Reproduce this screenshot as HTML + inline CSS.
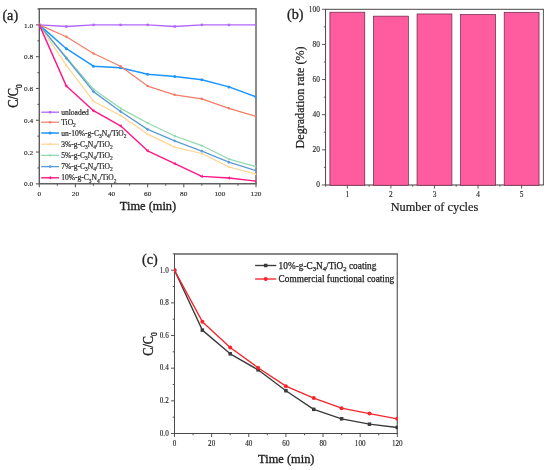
<!DOCTYPE html>
<html lang="en">
<head>
<meta charset="utf-8">
<title>Figure</title>
<style>
html,body{margin:0;padding:0;background:#ffffff;}
body{width:550px;height:470px;overflow:hidden;}
svg{display:block;}
svg text{font-family:"Liberation Serif", serif;fill:#222222;}
</style>
</head>
<body>
<svg width="550" height="470" viewBox="0 0 550 470">
<rect x="0" y="0" width="550" height="470" fill="#ffffff"/>
<g id="pa">
<clipPath id="clipa"><rect x="38.9" y="8.8" width="217.3" height="175.35"/></clipPath>
<line x1="38.6" y1="8.8" x2="256.75" y2="8.8" stroke="#6a6a6a" stroke-width="1.6"/>
<line x1="256" y1="8.8" x2="256" y2="183.85" stroke="#666666" stroke-width="1.5"/>
<line x1="38.6" y1="183.85" x2="256.75" y2="183.85" stroke="#606060" stroke-width="1.5"/>
<line x1="39.3" y1="8.8" x2="39.3" y2="183.85" stroke="#5c5c5c" stroke-width="1.4"/>
<line x1="35.9" y1="183.85" x2="39.3" y2="183.85" stroke="#5c5c5c" stroke-width="1.1"/>
<text transform="translate(33.2,186.45) scale(1.03,1)" font-size="7.1" text-anchor="end" fill="#222222" stroke="#222222" stroke-width="0.12">0.0</text>
<line x1="37.4" y1="167.95" x2="39.3" y2="167.95" stroke="#5c5c5c" stroke-width="1.1"/>
<line x1="35.9" y1="152.06" x2="39.3" y2="152.06" stroke="#5c5c5c" stroke-width="1.1"/>
<text transform="translate(33.2,154.66) scale(1.03,1)" font-size="7.1" text-anchor="end" fill="#222222" stroke="#222222" stroke-width="0.12">0.2</text>
<line x1="37.4" y1="136.16" x2="39.3" y2="136.16" stroke="#5c5c5c" stroke-width="1.1"/>
<line x1="35.9" y1="120.27" x2="39.3" y2="120.27" stroke="#5c5c5c" stroke-width="1.1"/>
<text transform="translate(33.2,122.87) scale(1.03,1)" font-size="7.1" text-anchor="end" fill="#222222" stroke="#222222" stroke-width="0.12">0.4</text>
<line x1="37.4" y1="104.38" x2="39.3" y2="104.38" stroke="#5c5c5c" stroke-width="1.1"/>
<line x1="35.9" y1="88.48" x2="39.3" y2="88.48" stroke="#5c5c5c" stroke-width="1.1"/>
<text transform="translate(33.2,91.08) scale(1.03,1)" font-size="7.1" text-anchor="end" fill="#222222" stroke="#222222" stroke-width="0.12">0.6</text>
<line x1="37.4" y1="72.59" x2="39.3" y2="72.59" stroke="#5c5c5c" stroke-width="1.1"/>
<line x1="35.9" y1="56.69" x2="39.3" y2="56.69" stroke="#5c5c5c" stroke-width="1.1"/>
<text transform="translate(33.2,59.29) scale(1.03,1)" font-size="7.1" text-anchor="end" fill="#222222" stroke="#222222" stroke-width="0.12">0.8</text>
<line x1="37.4" y1="40.79" x2="39.3" y2="40.79" stroke="#5c5c5c" stroke-width="1.1"/>
<line x1="35.9" y1="24.9" x2="39.3" y2="24.9" stroke="#5c5c5c" stroke-width="1.1"/>
<text transform="translate(33.2,27.5) scale(1.03,1)" font-size="7.1" text-anchor="end" fill="#222222" stroke="#222222" stroke-width="0.12">1.0</text>
<line x1="37.4" y1="9" x2="39.3" y2="9" stroke="#5c5c5c" stroke-width="1.1"/>
<line x1="39.3" y1="183.85" x2="39.3" y2="187.25" stroke="#5c5c5c" stroke-width="1.1"/>
<text transform="translate(39.3,195.75) scale(1.03,1)" font-size="7.1" text-anchor="middle" fill="#222222" stroke="#222222" stroke-width="0.12">0</text>
<line x1="57.36" y1="183.85" x2="57.36" y2="185.75" stroke="#5c5c5c" stroke-width="1.1"/>
<line x1="75.42" y1="183.85" x2="75.42" y2="187.25" stroke="#5c5c5c" stroke-width="1.1"/>
<text transform="translate(75.42,195.75) scale(1.03,1)" font-size="7.1" text-anchor="middle" fill="#222222" stroke="#222222" stroke-width="0.12">20</text>
<line x1="93.47" y1="183.85" x2="93.47" y2="185.75" stroke="#5c5c5c" stroke-width="1.1"/>
<line x1="111.53" y1="183.85" x2="111.53" y2="187.25" stroke="#5c5c5c" stroke-width="1.1"/>
<text transform="translate(111.53,195.75) scale(1.03,1)" font-size="7.1" text-anchor="middle" fill="#222222" stroke="#222222" stroke-width="0.12">40</text>
<line x1="129.59" y1="183.85" x2="129.59" y2="185.75" stroke="#5c5c5c" stroke-width="1.1"/>
<line x1="147.65" y1="183.85" x2="147.65" y2="187.25" stroke="#5c5c5c" stroke-width="1.1"/>
<text transform="translate(147.65,195.75) scale(1.03,1)" font-size="7.1" text-anchor="middle" fill="#222222" stroke="#222222" stroke-width="0.12">60</text>
<line x1="165.71" y1="183.85" x2="165.71" y2="185.75" stroke="#5c5c5c" stroke-width="1.1"/>
<line x1="183.77" y1="183.85" x2="183.77" y2="187.25" stroke="#5c5c5c" stroke-width="1.1"/>
<text transform="translate(183.77,195.75) scale(1.03,1)" font-size="7.1" text-anchor="middle" fill="#222222" stroke="#222222" stroke-width="0.12">80</text>
<line x1="201.82" y1="183.85" x2="201.82" y2="185.75" stroke="#5c5c5c" stroke-width="1.1"/>
<line x1="219.88" y1="183.85" x2="219.88" y2="187.25" stroke="#5c5c5c" stroke-width="1.1"/>
<text transform="translate(219.88,195.75) scale(1.03,1)" font-size="7.1" text-anchor="middle" fill="#222222" stroke="#222222" stroke-width="0.12">100</text>
<line x1="237.94" y1="183.85" x2="237.94" y2="185.75" stroke="#5c5c5c" stroke-width="1.1"/>
<line x1="256" y1="183.85" x2="256" y2="187.25" stroke="#5c5c5c" stroke-width="1.1"/>
<text transform="translate(256,195.75) scale(1.03,1)" font-size="7.1" text-anchor="middle" fill="#222222" stroke="#222222" stroke-width="0.12">120</text>
<g clip-path="url(#clipa)">
<polyline points="39.3,24.9 66.39,26.49 93.47,24.9 120.56,24.9 147.65,24.9 174.74,26.49 201.82,24.9 228.91,24.9 256,24.9" fill="none" stroke="#B266FF" stroke-width="1.3" stroke-linejoin="round"/>
<rect x="38.08" y="23.69" width="2.43" height="2.43" fill="#B266FF"/>
<rect x="65.17" y="25.27" width="2.43" height="2.43" fill="#B266FF"/>
<rect x="92.26" y="23.69" width="2.43" height="2.43" fill="#B266FF"/>
<rect x="119.35" y="23.69" width="2.43" height="2.43" fill="#B266FF"/>
<rect x="146.43" y="23.69" width="2.43" height="2.43" fill="#B266FF"/>
<rect x="173.52" y="25.27" width="2.43" height="2.43" fill="#B266FF"/>
<rect x="200.61" y="23.69" width="2.43" height="2.43" fill="#B266FF"/>
<rect x="227.7" y="23.69" width="2.43" height="2.43" fill="#B266FF"/>
<rect x="254.78" y="23.69" width="2.43" height="2.43" fill="#B266FF"/>
<polyline points="39.3,24.9 66.39,48.74 93.47,66.23 120.56,67.82 147.65,74.17 174.74,76.56 201.82,79.74 228.91,86.89 256,96.9" fill="none" stroke="#1C96FF" stroke-width="1.5" stroke-linejoin="round"/>
<circle cx="39.3" cy="24.9" r="1.5" fill="#1C96FF"/>
<circle cx="66.39" cy="48.74" r="1.5" fill="#1C96FF"/>
<circle cx="93.47" cy="66.23" r="1.5" fill="#1C96FF"/>
<circle cx="120.56" cy="67.82" r="1.5" fill="#1C96FF"/>
<circle cx="147.65" cy="74.17" r="1.5" fill="#1C96FF"/>
<circle cx="174.74" cy="76.56" r="1.5" fill="#1C96FF"/>
<circle cx="201.82" cy="79.74" r="1.5" fill="#1C96FF"/>
<circle cx="228.91" cy="86.89" r="1.5" fill="#1C96FF"/>
<circle cx="256" cy="96.9" r="1.5" fill="#1C96FF"/>
<polyline points="39.3,24.9 66.39,36.82 93.47,53.51 120.56,66.23 147.65,86.1 174.74,94.84 201.82,98.81 228.91,108.35 256,116.3" fill="none" stroke="#F37C66" stroke-width="1.2" stroke-linejoin="round"/>
<circle cx="39.3" cy="24.9" r="1.25" fill="#F37C66"/>
<circle cx="66.39" cy="36.82" r="1.25" fill="#F37C66"/>
<circle cx="93.47" cy="53.51" r="1.25" fill="#F37C66"/>
<circle cx="120.56" cy="66.23" r="1.25" fill="#F37C66"/>
<circle cx="147.65" cy="86.1" r="1.25" fill="#F37C66"/>
<circle cx="174.74" cy="94.84" r="1.25" fill="#F37C66"/>
<circle cx="201.82" cy="98.81" r="1.25" fill="#F37C66"/>
<circle cx="228.91" cy="108.35" r="1.25" fill="#F37C66"/>
<circle cx="256" cy="116.3" r="1.25" fill="#F37C66"/>
<polyline points="39.3,24.9 66.39,65.43 93.47,101.2 120.56,115.5 147.65,134.1 174.74,147.13 201.82,153.49 228.91,167 256,174.15" fill="none" stroke="#FFD591" stroke-width="1.25" stroke-linejoin="round"/>
<polygon points="39.3,23.21 40.76,25.75 37.84,25.75" fill="#FFD591"/>
<polygon points="66.39,63.74 67.85,66.28 64.92,66.28" fill="#FFD591"/>
<polygon points="93.47,99.51 94.94,102.04 92.01,102.04" fill="#FFD591"/>
<polygon points="120.56,113.81 122.03,116.35 119.1,116.35" fill="#FFD591"/>
<polygon points="147.65,132.41 149.11,134.94 146.19,134.94" fill="#FFD591"/>
<polygon points="174.74,145.44 176.2,147.98 173.27,147.98" fill="#FFD591"/>
<polygon points="201.82,151.8 203.29,154.34 200.36,154.34" fill="#FFD591"/>
<polygon points="228.91,165.31 230.38,167.85 227.45,167.85" fill="#FFD591"/>
<polygon points="256,172.46 257.46,175 254.54,175" fill="#FFD591"/>
<polyline points="39.3,24.9 66.39,57.48 93.47,89.27 120.56,108.35 147.65,122.97 174.74,136.01 201.82,145.54 228.91,159.05 256,166.68" fill="none" stroke="#92D8B0" stroke-width="1.25" stroke-linejoin="round"/>
<polygon points="39.3,26.59 37.84,24.06 40.76,24.06" fill="#92D8B0"/>
<polygon points="66.39,59.17 64.92,56.64 67.85,56.64" fill="#92D8B0"/>
<polygon points="93.47,90.96 92.01,88.43 94.94,88.43" fill="#92D8B0"/>
<polygon points="120.56,110.04 119.1,107.5 122.03,107.5" fill="#92D8B0"/>
<polygon points="147.65,124.66 146.19,122.13 149.11,122.13" fill="#92D8B0"/>
<polygon points="174.74,137.7 173.27,135.16 176.2,135.16" fill="#92D8B0"/>
<polygon points="201.82,147.23 200.36,144.7 203.29,144.7" fill="#92D8B0"/>
<polygon points="228.91,160.74 227.45,158.21 230.38,158.21" fill="#92D8B0"/>
<polygon points="256,168.37 254.54,165.84 257.46,165.84" fill="#92D8B0"/>
<polyline points="39.3,24.9 66.39,58.28 93.47,91.66 120.56,111.53 147.65,129.33 174.74,140.93 201.82,151.11 228.91,162.23 256,170.66" fill="none" stroke="#5B9BD8" stroke-width="1.35" stroke-linejoin="round"/>
<polygon points="39.3,23.21 40.99,24.9 39.3,26.59 37.61,24.9" fill="#5B9BD8"/>
<polygon points="66.39,56.59 68.07,58.28 66.39,59.97 64.7,58.28" fill="#5B9BD8"/>
<polygon points="93.47,89.97 95.16,91.66 93.47,93.35 91.79,91.66" fill="#5B9BD8"/>
<polygon points="120.56,109.84 122.25,111.53 120.56,113.22 118.88,111.53" fill="#5B9BD8"/>
<polygon points="147.65,127.64 149.34,129.33 147.65,131.02 145.96,129.33" fill="#5B9BD8"/>
<polygon points="174.74,139.25 176.43,140.93 174.74,142.62 173.05,140.93" fill="#5B9BD8"/>
<polygon points="201.82,149.42 203.51,151.11 201.82,152.79 200.14,151.11" fill="#5B9BD8"/>
<polygon points="228.91,160.55 230.6,162.23 228.91,163.92 227.23,162.23" fill="#5B9BD8"/>
<polygon points="256,168.97 257.69,170.66 256,172.34 254.31,170.66" fill="#5B9BD8"/>
<polyline points="39.3,24.9 66.39,86.1 93.47,110.73 120.56,125.83 147.65,150.79 174.74,163.66 201.82,176.38 228.91,177.97 256,181.15" fill="none" stroke="#FF1585" stroke-width="1.4" stroke-linejoin="round"/>
<polygon points="37.35,24.9 40.27,23.21 40.27,26.59" fill="#FF1585"/>
<polygon points="64.44,86.1 67.36,84.41 67.36,87.78" fill="#FF1585"/>
<polygon points="91.52,110.73 94.45,109.04 94.45,112.42" fill="#FF1585"/>
<polygon points="118.61,125.83 121.54,124.14 121.54,127.52" fill="#FF1585"/>
<polygon points="145.7,150.79 148.62,149.1 148.62,152.48" fill="#FF1585"/>
<polygon points="172.79,163.66 175.71,161.97 175.71,165.35" fill="#FF1585"/>
<polygon points="199.88,176.38 202.8,174.69 202.8,178.07" fill="#FF1585"/>
<polygon points="226.96,177.97 229.89,176.28 229.89,179.66" fill="#FF1585"/>
<polygon points="254.05,181.15 256.98,179.46 256.98,182.84" fill="#FF1585"/>
</g>
<text transform="translate(148,209.6) scale(0.94,1)" font-size="13.2" text-anchor="middle" stroke="#222222" stroke-width="0.35">Time (min)</text>
<text transform="translate(17.5,96) rotate(-90) scale(0.85,1)" font-size="14.5" text-anchor="middle" stroke="#222222" stroke-width="0.35">C/C<tspan font-size="8.7" dy="4.35">0</tspan></text>
<text x="2.4" y="20" font-size="14.2" text-anchor="start" stroke="#222222" stroke-width="0.32">(a)</text>
<line x1="41.2" y1="112.2" x2="59" y2="112.2" stroke="#B266FF" stroke-width="1.3"/>
<rect x="48.88" y="110.98" width="2.43" height="2.43" fill="#B266FF"/>
<text x="61.2" y="114.8" font-size="7.55" text-anchor="start" stroke="#222222" stroke-width="0.18">unloaded</text>
<line x1="41.2" y1="122.2" x2="59" y2="122.2" stroke="#F37C66" stroke-width="1.2"/>
<circle cx="50.1" cy="122.2" r="1.25" fill="#F37C66"/>
<text x="61.2" y="124.8" font-size="7.55" text-anchor="start" stroke="#222222" stroke-width="0.18">TiO<tspan font-size="5.44" dy="2.26">2</tspan></text>
<line x1="41.2" y1="133" x2="59" y2="133" stroke="#1C96FF" stroke-width="1.5"/>
<circle cx="50.1" cy="133" r="1.5" fill="#1C96FF"/>
<text x="61.2" y="135.6" font-size="7.55" text-anchor="start" stroke="#222222" stroke-width="0.18">un-10%-g-C<tspan font-size="5.44" dy="2.26">3</tspan><tspan dy="-2.26">N</tspan><tspan font-size="5.44" dy="2.26">4</tspan><tspan dy="-2.26">/TiO</tspan><tspan font-size="5.44" dy="2.26">2</tspan></text>
<line x1="41.2" y1="144.2" x2="59" y2="144.2" stroke="#FFD591" stroke-width="1.25"/>
<polygon points="50.1,142.51 51.56,145.04 48.64,145.04" fill="#FFD591"/>
<text x="61.2" y="146.8" font-size="7.55" text-anchor="start" stroke="#222222" stroke-width="0.18">3%-g-C<tspan font-size="5.44" dy="2.26">3</tspan><tspan dy="-2.26">N</tspan><tspan font-size="5.44" dy="2.26">4</tspan><tspan dy="-2.26">/TiO</tspan><tspan font-size="5.44" dy="2.26">2</tspan></text>
<line x1="41.2" y1="155.4" x2="59" y2="155.4" stroke="#92D8B0" stroke-width="1.25"/>
<polygon points="50.1,157.09 48.64,154.56 51.56,154.56" fill="#92D8B0"/>
<text x="61.2" y="158" font-size="7.55" text-anchor="start" stroke="#222222" stroke-width="0.18">5%-g-C<tspan font-size="5.44" dy="2.26">3</tspan><tspan dy="-2.26">N</tspan><tspan font-size="5.44" dy="2.26">4</tspan><tspan dy="-2.26">/TiO</tspan><tspan font-size="5.44" dy="2.26">2</tspan></text>
<line x1="41.2" y1="166.6" x2="59" y2="166.6" stroke="#5B9BD8" stroke-width="1.35"/>
<polygon points="50.1,164.91 51.79,166.6 50.1,168.29 48.41,166.6" fill="#5B9BD8"/>
<text x="61.2" y="169.2" font-size="7.55" text-anchor="start" stroke="#222222" stroke-width="0.18">7%-g-C<tspan font-size="5.44" dy="2.26">3</tspan><tspan dy="-2.26">N</tspan><tspan font-size="5.44" dy="2.26">4</tspan><tspan dy="-2.26">/TiO</tspan><tspan font-size="5.44" dy="2.26">2</tspan></text>
<line x1="41.2" y1="177.8" x2="59" y2="177.8" stroke="#FF1585" stroke-width="1.4"/>
<polygon points="48.15,177.8 51.08,176.11 51.08,179.49" fill="#FF1585"/>
<text x="61.2" y="180.4" font-size="7.55" text-anchor="start" stroke="#222222" stroke-width="0.18">10%-g-C<tspan font-size="5.44" dy="2.26">3</tspan><tspan dy="-2.26">N</tspan><tspan font-size="5.44" dy="2.26">4</tspan><tspan dy="-2.26">/TiO</tspan><tspan font-size="5.44" dy="2.26">2</tspan></text>
</g>
<g id="pb">
<line x1="325.05" y1="9.3" x2="543.9" y2="9.3" stroke="#484848" stroke-width="1.0"/>
<line x1="543.4" y1="9.3" x2="543.4" y2="184.95" stroke="#555555" stroke-width="1.0"/>
<line x1="325.05" y1="184.95" x2="543.9" y2="184.95" stroke="#3e3e3e" stroke-width="1.15"/>
<line x1="325.55" y1="9.3" x2="325.55" y2="184.95" stroke="#484848" stroke-width="1.0"/>
<rect x="329.91" y="12.2" width="34.86" height="173.05" fill="#FF5CA0" stroke="#6a2040" stroke-width="0.7"/>
<rect x="373.48" y="16.15" width="34.86" height="169.1" fill="#FF5CA0" stroke="#6a2040" stroke-width="0.7"/>
<rect x="417.05" y="13.95" width="34.86" height="171.3" fill="#FF5CA0" stroke="#6a2040" stroke-width="0.7"/>
<rect x="460.62" y="14.48" width="34.86" height="170.77" fill="#FF5CA0" stroke="#6a2040" stroke-width="0.7"/>
<rect x="504.19" y="12.29" width="34.86" height="172.96" fill="#FF5CA0" stroke="#6a2040" stroke-width="0.7"/>
<line x1="321.95" y1="184.95" x2="325.55" y2="184.95" stroke="#4a4a4a" stroke-width="0.9"/>
<text transform="translate(319.85,187.25) scale(0.97,1)" font-size="7.6" text-anchor="end" fill="#222222" stroke="#222222" stroke-width="0.12">0</text>
<line x1="323.85" y1="167.38" x2="325.55" y2="167.38" stroke="#4a4a4a" stroke-width="0.9"/>
<line x1="321.95" y1="149.82" x2="325.55" y2="149.82" stroke="#4a4a4a" stroke-width="0.9"/>
<text transform="translate(319.85,152.12) scale(0.97,1)" font-size="7.6" text-anchor="end" fill="#222222" stroke="#222222" stroke-width="0.12">20</text>
<line x1="323.85" y1="132.25" x2="325.55" y2="132.25" stroke="#4a4a4a" stroke-width="0.9"/>
<line x1="321.95" y1="114.69" x2="325.55" y2="114.69" stroke="#4a4a4a" stroke-width="0.9"/>
<text transform="translate(319.85,116.99) scale(0.97,1)" font-size="7.6" text-anchor="end" fill="#222222" stroke="#222222" stroke-width="0.12">40</text>
<line x1="323.85" y1="97.12" x2="325.55" y2="97.12" stroke="#4a4a4a" stroke-width="0.9"/>
<line x1="321.95" y1="79.56" x2="325.55" y2="79.56" stroke="#4a4a4a" stroke-width="0.9"/>
<text transform="translate(319.85,81.86) scale(0.97,1)" font-size="7.6" text-anchor="end" fill="#222222" stroke="#222222" stroke-width="0.12">60</text>
<line x1="323.85" y1="62" x2="325.55" y2="62" stroke="#4a4a4a" stroke-width="0.9"/>
<line x1="321.95" y1="44.43" x2="325.55" y2="44.43" stroke="#4a4a4a" stroke-width="0.9"/>
<text transform="translate(319.85,46.73) scale(0.97,1)" font-size="7.6" text-anchor="end" fill="#222222" stroke="#222222" stroke-width="0.12">80</text>
<line x1="323.85" y1="26.87" x2="325.55" y2="26.87" stroke="#4a4a4a" stroke-width="0.9"/>
<line x1="321.95" y1="9.3" x2="325.55" y2="9.3" stroke="#4a4a4a" stroke-width="0.9"/>
<text transform="translate(319.85,11.6) scale(0.97,1)" font-size="7.6" text-anchor="end" fill="#222222" stroke="#222222" stroke-width="0.12">100</text>
<line x1="347.34" y1="184.95" x2="347.34" y2="188.55" stroke="#4a4a4a" stroke-width="0.9"/>
<text transform="translate(347.34,196.75) scale(0.97,1)" font-size="7.6" text-anchor="middle" fill="#222222" stroke="#222222" stroke-width="0.12">1</text>
<line x1="390.9" y1="184.95" x2="390.9" y2="188.55" stroke="#4a4a4a" stroke-width="0.9"/>
<text transform="translate(390.9,196.75) scale(0.97,1)" font-size="7.6" text-anchor="middle" fill="#222222" stroke="#222222" stroke-width="0.12">2</text>
<line x1="434.48" y1="184.95" x2="434.48" y2="188.55" stroke="#4a4a4a" stroke-width="0.9"/>
<text transform="translate(434.48,196.75) scale(0.97,1)" font-size="7.6" text-anchor="middle" fill="#222222" stroke="#222222" stroke-width="0.12">3</text>
<line x1="478.04" y1="184.95" x2="478.04" y2="188.55" stroke="#4a4a4a" stroke-width="0.9"/>
<text transform="translate(478.04,196.75) scale(0.97,1)" font-size="7.6" text-anchor="middle" fill="#222222" stroke="#222222" stroke-width="0.12">4</text>
<line x1="521.62" y1="184.95" x2="521.62" y2="188.55" stroke="#4a4a4a" stroke-width="0.9"/>
<text transform="translate(521.62,196.75) scale(0.97,1)" font-size="7.6" text-anchor="middle" fill="#222222" stroke="#222222" stroke-width="0.12">5</text>
<line x1="325.55" y1="184.95" x2="325.55" y2="186.65" stroke="#4a4a4a" stroke-width="0.9"/>
<line x1="369.12" y1="184.95" x2="369.12" y2="186.65" stroke="#4a4a4a" stroke-width="0.9"/>
<line x1="412.69" y1="184.95" x2="412.69" y2="186.65" stroke="#4a4a4a" stroke-width="0.9"/>
<line x1="456.26" y1="184.95" x2="456.26" y2="186.65" stroke="#4a4a4a" stroke-width="0.9"/>
<line x1="499.83" y1="184.95" x2="499.83" y2="186.65" stroke="#4a4a4a" stroke-width="0.9"/>
<text transform="translate(434.5,210.5) scale(0.95,1)" font-size="13" text-anchor="middle" stroke="#222222" stroke-width="0.22">Number of cycles</text>
<text transform="translate(304.3,97.4) rotate(-90) scale(0.93,1)" font-size="13" text-anchor="middle" stroke="#222222" stroke-width="0.22">Degradation rate (%)</text>
<text x="287" y="19" font-size="14.2" text-anchor="start" stroke="#222222" stroke-width="0.32">(b)</text>
</g>
<g id="pc">
<clipPath id="clipc"><rect x="174" y="254" width="223.8" height="179.8"/></clipPath>
<line x1="173.97" y1="254" x2="397.95" y2="254" stroke="#606060" stroke-width="1.5"/>
<line x1="397.3" y1="254" x2="397.3" y2="433.5" stroke="#686868" stroke-width="1.3"/>
<line x1="173.97" y1="433.5" x2="397.95" y2="433.5" stroke="#484848" stroke-width="1.05"/>
<line x1="174.5" y1="254" x2="174.5" y2="433.5" stroke="#4c4c4c" stroke-width="1.05"/>
<line x1="171" y1="433.5" x2="174.5" y2="433.5" stroke="#4c4c4c" stroke-width="0.95"/>
<text transform="translate(168.7,435.8) scale(0.94,1)" font-size="7.6" text-anchor="end" fill="#222222" stroke="#222222" stroke-width="0.12">0.0</text>
<line x1="172.7" y1="417.17" x2="174.5" y2="417.17" stroke="#4c4c4c" stroke-width="0.95"/>
<line x1="171" y1="400.84" x2="174.5" y2="400.84" stroke="#4c4c4c" stroke-width="0.95"/>
<text transform="translate(168.7,403.14) scale(0.94,1)" font-size="7.6" text-anchor="end" fill="#222222" stroke="#222222" stroke-width="0.12">0.2</text>
<line x1="172.7" y1="384.51" x2="174.5" y2="384.51" stroke="#4c4c4c" stroke-width="0.95"/>
<line x1="171" y1="368.18" x2="174.5" y2="368.18" stroke="#4c4c4c" stroke-width="0.95"/>
<text transform="translate(168.7,370.48) scale(0.94,1)" font-size="7.6" text-anchor="end" fill="#222222" stroke="#222222" stroke-width="0.12">0.4</text>
<line x1="172.7" y1="351.85" x2="174.5" y2="351.85" stroke="#4c4c4c" stroke-width="0.95"/>
<line x1="171" y1="335.52" x2="174.5" y2="335.52" stroke="#4c4c4c" stroke-width="0.95"/>
<text transform="translate(168.7,337.82) scale(0.94,1)" font-size="7.6" text-anchor="end" fill="#222222" stroke="#222222" stroke-width="0.12">0.6</text>
<line x1="172.7" y1="319.19" x2="174.5" y2="319.19" stroke="#4c4c4c" stroke-width="0.95"/>
<line x1="171" y1="302.86" x2="174.5" y2="302.86" stroke="#4c4c4c" stroke-width="0.95"/>
<text transform="translate(168.7,305.16) scale(0.94,1)" font-size="7.6" text-anchor="end" fill="#222222" stroke="#222222" stroke-width="0.12">0.8</text>
<line x1="172.7" y1="286.53" x2="174.5" y2="286.53" stroke="#4c4c4c" stroke-width="0.95"/>
<line x1="171" y1="270.2" x2="174.5" y2="270.2" stroke="#4c4c4c" stroke-width="0.95"/>
<text transform="translate(168.7,272.5) scale(0.94,1)" font-size="7.6" text-anchor="end" fill="#222222" stroke="#222222" stroke-width="0.12">1.0</text>
<line x1="172.7" y1="253.87" x2="174.5" y2="253.87" stroke="#4c4c4c" stroke-width="0.95"/>
<line x1="174.5" y1="433.5" x2="174.5" y2="437" stroke="#4c4c4c" stroke-width="0.95"/>
<text transform="translate(174.5,445.8) scale(0.94,1)" font-size="7.6" text-anchor="middle" fill="#222222" stroke="#222222" stroke-width="0.12">0</text>
<line x1="193.07" y1="433.5" x2="193.07" y2="435.3" stroke="#4c4c4c" stroke-width="0.95"/>
<line x1="211.63" y1="433.5" x2="211.63" y2="437" stroke="#4c4c4c" stroke-width="0.95"/>
<text transform="translate(211.63,445.8) scale(0.94,1)" font-size="7.6" text-anchor="middle" fill="#222222" stroke="#222222" stroke-width="0.12">20</text>
<line x1="230.2" y1="433.5" x2="230.2" y2="435.3" stroke="#4c4c4c" stroke-width="0.95"/>
<line x1="248.77" y1="433.5" x2="248.77" y2="437" stroke="#4c4c4c" stroke-width="0.95"/>
<text transform="translate(248.77,445.8) scale(0.94,1)" font-size="7.6" text-anchor="middle" fill="#222222" stroke="#222222" stroke-width="0.12">40</text>
<line x1="267.33" y1="433.5" x2="267.33" y2="435.3" stroke="#4c4c4c" stroke-width="0.95"/>
<line x1="285.9" y1="433.5" x2="285.9" y2="437" stroke="#4c4c4c" stroke-width="0.95"/>
<text transform="translate(285.9,445.8) scale(0.94,1)" font-size="7.6" text-anchor="middle" fill="#222222" stroke="#222222" stroke-width="0.12">60</text>
<line x1="304.47" y1="433.5" x2="304.47" y2="435.3" stroke="#4c4c4c" stroke-width="0.95"/>
<line x1="323.03" y1="433.5" x2="323.03" y2="437" stroke="#4c4c4c" stroke-width="0.95"/>
<text transform="translate(323.03,445.8) scale(0.94,1)" font-size="7.6" text-anchor="middle" fill="#222222" stroke="#222222" stroke-width="0.12">80</text>
<line x1="341.6" y1="433.5" x2="341.6" y2="435.3" stroke="#4c4c4c" stroke-width="0.95"/>
<line x1="360.17" y1="433.5" x2="360.17" y2="437" stroke="#4c4c4c" stroke-width="0.95"/>
<text transform="translate(360.17,445.8) scale(0.94,1)" font-size="7.6" text-anchor="middle" fill="#222222" stroke="#222222" stroke-width="0.12">100</text>
<line x1="378.73" y1="433.5" x2="378.73" y2="435.3" stroke="#4c4c4c" stroke-width="0.95"/>
<line x1="397.3" y1="433.5" x2="397.3" y2="437" stroke="#4c4c4c" stroke-width="0.95"/>
<text transform="translate(397.3,445.8) scale(0.94,1)" font-size="7.6" text-anchor="middle" fill="#222222" stroke="#222222" stroke-width="0.12">120</text>
<g clip-path="url(#clipc)">
<polyline points="174.5,270.2 202.35,330.13 230.2,353.81 258.05,369.81 285.9,390.72 313.75,409.33 341.6,418.8 369.45,424.19 397.3,427.46" fill="none" stroke="#3a3a3a" stroke-width="1.35" stroke-linejoin="round"/>
<rect x="172.75" y="268.45" width="3.5" height="3.5" fill="#3a3a3a"/>
<rect x="200.6" y="328.38" width="3.5" height="3.5" fill="#3a3a3a"/>
<rect x="228.45" y="352.06" width="3.5" height="3.5" fill="#3a3a3a"/>
<rect x="256.3" y="368.06" width="3.5" height="3.5" fill="#3a3a3a"/>
<rect x="284.15" y="388.97" width="3.5" height="3.5" fill="#3a3a3a"/>
<rect x="312" y="407.58" width="3.5" height="3.5" fill="#3a3a3a"/>
<rect x="339.85" y="417.05" width="3.5" height="3.5" fill="#3a3a3a"/>
<rect x="367.7" y="422.44" width="3.5" height="3.5" fill="#3a3a3a"/>
<rect x="395.55" y="425.71" width="3.5" height="3.5" fill="#3a3a3a"/>
<polyline points="174.5,270.2 202.35,321.64 230.2,347.44 258.05,367.69 285.9,386.14 313.75,398.06 341.6,408.19 369.45,413.58 397.3,418.8" fill="none" stroke="#F4262B" stroke-width="1.35" stroke-linejoin="round"/>
<circle cx="174.5" cy="270.2" r="2.01" fill="#F4262B"/>
<circle cx="202.35" cy="321.64" r="2.01" fill="#F4262B"/>
<circle cx="230.2" cy="347.44" r="2.01" fill="#F4262B"/>
<circle cx="258.05" cy="367.69" r="2.01" fill="#F4262B"/>
<circle cx="285.9" cy="386.14" r="2.01" fill="#F4262B"/>
<circle cx="313.75" cy="398.06" r="2.01" fill="#F4262B"/>
<circle cx="341.6" cy="408.19" r="2.01" fill="#F4262B"/>
<circle cx="369.45" cy="413.58" r="2.01" fill="#F4262B"/>
<circle cx="397.3" cy="418.8" r="2.01" fill="#F4262B"/>
</g>
<text transform="translate(286.3,463) scale(0.94,1)" font-size="13.2" text-anchor="middle" stroke="#222222" stroke-width="0.35">Time (min)</text>
<text transform="translate(152.8,344) rotate(-90) scale(0.85,1)" font-size="14.5" text-anchor="middle" stroke="#222222" stroke-width="0.35">C/C<tspan font-size="8.7" dy="4.35">0</tspan></text>
<text x="142.1" y="264.1" font-size="14.2" text-anchor="start" stroke="#222222" stroke-width="0.32">(c)</text>
<line x1="255.1" y1="265.5" x2="276.3" y2="265.5" stroke="#3a3a3a" stroke-width="1.35"/>
<rect x="263.95" y="263.75" width="3.5" height="3.5" fill="#3a3a3a"/>
<text x="278.6" y="268.7" font-size="9.3" text-anchor="start" stroke="#222222" stroke-width="0.25">10%-g-C<tspan font-size="6.7" dy="2.79">3</tspan><tspan dy="-2.79">N</tspan><tspan font-size="6.7" dy="2.79">4</tspan><tspan dy="-2.79">/TiO</tspan><tspan font-size="6.7" dy="2.79">2</tspan><tspan dy="-2.79"> coating</tspan></text>
<line x1="255.1" y1="279" x2="276.3" y2="279" stroke="#F4262B" stroke-width="1.35"/>
<circle cx="265.7" cy="279.0" r="2.01" fill="#F4262B"/>
<text x="278.6" y="282.2" font-size="9.3" text-anchor="start" stroke="#222222" stroke-width="0.25">Commercial functional coating</text>
</g>
</svg>
</body>
</html>
